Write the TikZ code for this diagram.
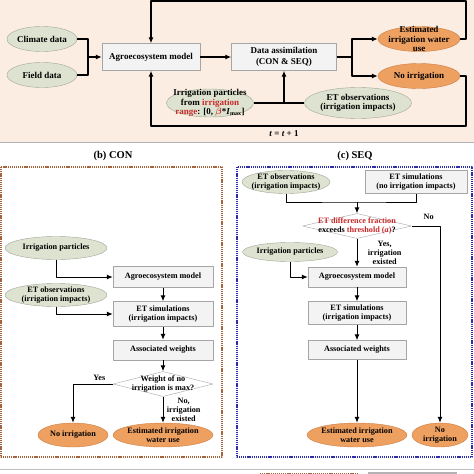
\documentclass[tikz,border=0pt]{standalone}
\usepackage{amsmath}
\usepackage{fontspec}
\setmainfont{Liberation Serif}
\usetikzlibrary{arrows.meta,shapes.geometric}
\definecolor{peach}{RGB}{251,237,226}
\definecolor{greenfill}{RGB}{221,227,208}
\definecolor{greenline}{RGB}{160,166,150}
\definecolor{orangefill}{RGB}{238,160,96}
\definecolor{orangeline}{RGB}{205,125,65}
\definecolor{boxfill}{RGB}{243,243,243}
\definecolor{boxline}{RGB}{165,165,165}
\definecolor{irred}{RGB}{200,40,40}
\definecolor{conline}{RGB}{165,100,60}
\definecolor{seqline}{RGB}{45,45,170}
\newcommand{\rd}[1]{\textcolor{irred}{#1}}
\begin{document}
\begin{tikzpicture}[x=1pt, y=-1pt, line join=round, >={Latex[length=6pt,width=5pt]},
	font=\fontsize{9}{9.5}\selectfont\bfseries,
	box/.style={draw=boxline, fill=boxfill, inner sep=1pt, align=center},
	gell/.style={ellipse, draw=greenline, fill=greenfill, inner xsep=-14pt, inner ysep=-9pt, align=center},
	oell/.style={ellipse, draw=orangeline, fill=orangefill, inner xsep=-14pt, inner ysep=-9pt, align=center},
	dia/.style={diamond, draw=boxline, fill=white, inner xsep=-40pt, inner ysep=-12pt, align=center},
	flow/.style={line width=1pt},
	loop/.style={line width=1.2pt},
	frame/.style={dash pattern=on 1.2pt off 0.9pt, line width=1.1pt}]
	\useasboundingbox (0,0) rectangle (474,474);
	% (a) workflow
	\fill[peach] (0,0) rectangle (474,142);
	\draw[gray!60, line width=1pt] (0,142)--(474,142);
	\node[gell, minimum width=70, minimum height=25] (clim) at (42,39) {Climate data};
	\node[gell, minimum width=70, minimum height=25] (field) at (42,75) {Field data};
	\node[box, minimum width=98, minimum height=27] (agro) at (151,57) {Agroecosystem model};
	\node[box, minimum width=105, minimum height=27] (da) at (284,57) {Data assimilation\\[1pt](CON \& SEQ)};
	\node[oell, minimum width=82, minimum height=25] (est) at (419,39) {Estimated\\irrigation water\\use};
	\node[oell, minimum width=82, minimum height=25] (noirr) at (419,76) {No irrigation};
	\node[gell, minimum width=87, minimum height=28] (ipart) at (210,103) {Irrigation particles\\from \rd{irrigation}\\\rd{range}: [0, \rd{$\boldsymbol{\beta}$}*\textit{I}$_{\mathbf{max}}$]};
	\node[gell, minimum width=107, minimum height=31] (etobs) at (358,103) {ET observations\\(irrigation impacts)};
	\node (tt) at (284,134) {\textit{t} = \textit{t} + 1};
	\coordinate (j1) at (88,57);
	\coordinate (j2) at (352,57);
	\coordinate (tr) at (466,1);
	\coordinate (br) at (466,126);
	\draw[loop] (clim.east) -| (j1) |- (field.east);
	\draw[loop,->] (j1) -- (agro.west);
	\draw[loop,->] (agro) -- (da);
	\draw[loop] (da.east) -- (j2);
	\draw[loop,->] (j2) |- (est.west);
	\draw[loop,->] (j2) |- (noirr.west);
	\draw[loop,->] (est.east) -| (tr) -| (agro.north);
	\draw[loop,->] (noirr.east) -| (br) -| (agro.south);
	\draw[loop] (ipart.east) -- (etobs.west);
	\draw[loop,->] (da.south |- ipart.east) -- (da.south);
	% panel titles
	\node[font=\fontsize{10.5}{12}\selectfont\bfseries] (tcon) at (113,156) {(b) CON};
	\node[font=\fontsize{10.5}{12}\selectfont\bfseries] (tseq) at (355,156) {(c) SEQ};
	\begin{scope}[font=\fontsize{8.2}{9}\selectfont\bfseries]
	% (b) CON
	\draw[conline, frame] (1,167) rectangle (222,457);
	\node[gell, minimum width=102, minimum height=23] (ipb) at (56,248) {Irrigation particles};
	\node[box, minimum width=100, minimum height=21] (agb) at (163,277) {Agroecosystem model};
	\node[gell, minimum width=102, minimum height=23] (eob) at (56,295) {ET observations\\(irrigation impacts)};
	\node[box, minimum width=100, minimum height=25] (esb) at (163,314) {ET simulations\\(irrigation impacts)};
	\node[box, minimum width=100, minimum height=20] (awb) at (163,350) {Associated weights};
	\node[dia, minimum width=100, minimum height=25] (dib) at (163,384) {Weight of no\\irrigation is max?};
	\node[oell, minimum width=70, minimum height=24] (nib) at (73,435) {No irrigation};
	\node[oell, minimum width=100, minimum height=24] (ewb) at (163,435) {Estimated irrigation\\water use};
	\draw[flow,->] (ipb.south) |- (agb.west);
	\draw[flow,->] (eob.south) |- (esb.west);
	\draw[flow,->] (agb) -- (esb);
	\draw[flow,->] (esb) -- (awb);
	\draw[flow,->] (awb) -- (dib);
	\draw[flow,->] (dib.west) -| (nib.north) node[pos=0.17, above] {Yes};
	\draw[flow,->] (dib) -- (ewb) node[midway, right, align=center] {No,\\irrigation\\existed};
	% (c) SEQ
	\draw[seqline, frame] (237,167) rectangle (472,457);
	\node[gell, minimum width=88, minimum height=23] (eoc) at (286,182) {ET observations\\(irrigation impacts)};
	\node[box, minimum width=102, minimum height=23] (snc) at (416,182) {ET simulations\\(no irrigation impacts)};
	\node[dia, minimum width=109, minimum height=25] (dic) at (357,226) {\rd{ET difference fraction}\\exceeds \rd{threshold (\textit{a})}?};
	\node[gell, minimum width=95, minimum height=19] (ipc) at (290,252) {Irrigation particles};
	\node[box, minimum width=98, minimum height=20] (agc) at (357,277) {Agroecosystem model};
	\node[box, minimum width=98, minimum height=23] (esc) at (357,313) {ET simulations\\(irrigation impacts)};
	\node[box, minimum width=98, minimum height=19] (awc) at (357,350) {Associated weights};
	\node[oell, minimum width=100, minimum height=24] (ewc) at (357,435) {Estimated irrigation\\water use};
	\node[oell, minimum width=56, minimum height=24] (nic) at (440,435) {No\\irrigation};
	\coordinate (jc) at (357,202);
	\draw[flow] (eoc.south) |- (jc) -| (snc.south);
	\draw[flow,->] (jc) -- (dic.north);
	\draw[flow,->] (dic.east) -| (nic.north) node[pos=0.3, above=3pt] {No};
	\draw[flow,->] (ipc.south) |- (agc.west);
	\draw[flow,->] (dic) -- (agc) node[midway, right=7pt, align=center] {Yes,\\irrigation\\existed};
	\draw[flow,->] (agc) -- (esc);
	\draw[flow,->] (esc) -- (awc);
	\draw[flow,->] (awc) -- (ewc);
	\end{scope}
	% cut-off strip below
	\draw[gray!50, line width=1pt] (0,469)--(474,469);
	\draw[conline, frame] (260,473.5)--(357,473.5);
	\fill[gray!60] (368,472) rectangle (457,474);
\end{tikzpicture}
\end{document}
